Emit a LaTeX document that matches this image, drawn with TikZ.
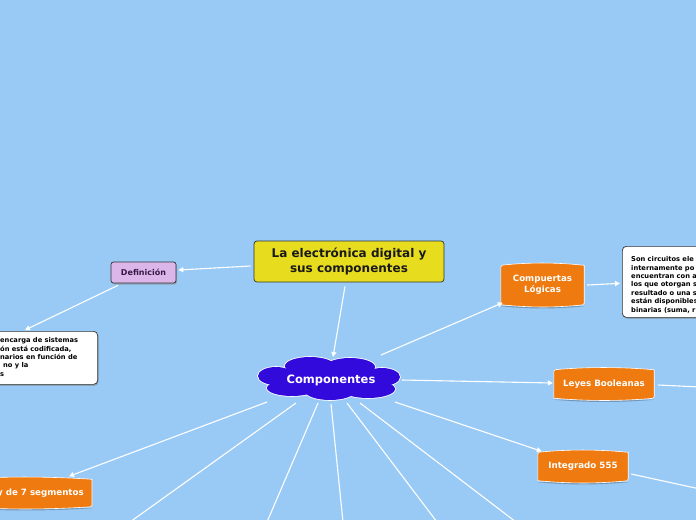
\documentclass[tikz,border=0pt]{standalone}
\usepackage{fontspec}
\setmainfont{DejaVu Sans}
\usetikzlibrary{arrows.meta,calc,shadows}
\pgfdeclarelayer{bottom}
\pgfdeclarelayer{background}
\pgfsetlayers{bottom,background,main}
\definecolor{bgc}{RGB}{153,202,246}
\definecolor{yellowc}{RGB}{232,220,30}
\definecolor{lilacc}{RGB}{220,182,232}
\definecolor{purpletext}{RGB}{55,25,70}
\definecolor{orangec}{RGB}{238,122,16}
\definecolor{cloudc}{RGB}{50,10,220}
\newcommand\orangeshape[1]{%
  \fill[black,opacity=0.25] ([yshift=-1.5pt]#1.south west) -- ([yshift=-1.5pt]#1.south east)
    .. controls ($([yshift=-1.5pt]#1.south west)!0.67!([yshift=-1.5pt]#1.south east)+(0,3)$) and ($([yshift=-1.5pt]#1.south west)!0.33!([yshift=-1.5pt]#1.south east)+(0,3)$) .. ([yshift=-1.5pt]#1.south west) -- cycle;
  \filldraw[fill=orangec,draw=white,line width=0.6pt,rounded corners=1.5pt] (#1.south west) -- (#1.north west)
    [sharp corners] .. controls ($(#1.north west)!0.33!(#1.north east)+(0,-3)$) and ($(#1.north west)!0.67!(#1.north east)+(0,-3)$) .. (#1.north east)
    [rounded corners=1.5pt] -- (#1.south east)
    [sharp corners] .. controls ($(#1.south west)!0.67!(#1.south east)+(0,3)$) and ($(#1.south west)!0.33!(#1.south east)+(0,3)$) .. (#1.south west) -- cycle;
}
\newcommand\cloudpuffs[1]{%
  \path[#1] (276,376) ellipse [x radius=18,y radius=9];
  \path[#1] (310,366) ellipse [x radius=25,y radius=9];
  \path[#1] (350,367) ellipse [x radius=25,y radius=9];
  \path[#1] (382,377) ellipse [x radius=18,y radius=9];
  \path[#1] (368,389) ellipse [x radius=27,y radius=9];
  \path[#1] (330,391) ellipse [x radius=25,y radius=9];
  \path[#1] (292,388) ellipse [x radius=25,y radius=8];
  \path[#1] (329,378) ellipse [x radius=55,y radius=12];
}
\begin{document}
\begin{tikzpicture}[x=1pt,y=-1pt,
  conn/.style={draw=white,line width=1.1pt},
  arr/.style={conn,-{Triangle[length=5pt,width=5pt]}},
  titlebox/.style={fill=yellowc,draw=black!80,rounded corners=3pt,line width=0.7pt,
    font=\fontsize{12}{14.3}\selectfont\bfseries,align=center,text=black!90,inner sep=0pt},
  defbox/.style={fill=lilacc,draw=black!80,rounded corners=2.5pt,line width=0.7pt,
    drop shadow={shadow xshift=1pt,shadow yshift=-1.5pt,opacity=0.5},
    font=\fontsize{8}{9}\selectfont\bfseries,text=purpletext,inner sep=0pt},
  whitebox/.style={fill=white,draw=black!80,rounded corners=4pt,line width=0.7pt,
    drop shadow={shadow xshift=1pt,shadow yshift=-1.5pt,opacity=0.5},inner sep=0pt},
  smalltext/.style={font=\fontsize{6.7}{8.4}\selectfont\bfseries,align=left,text=black,inner sep=0pt},
  cloudn/.style={text=white,font=\fontsize{11.5}{13}\selectfont\bfseries,inner sep=0pt},
  obox/.style={text=white,font=\fontsize{8.7}{11}\selectfont\bfseries,align=center,inner sep=0pt}
]
\begin{pgfonlayer}{bottom}
\fill[bgc] (0,0) rectangle (696,520);
\end{pgfonlayer}
\useasboundingbox (0,0) rectangle (696,520);

% nodes
\node[titlebox,minimum width=190,minimum height=41] (t) at (349,261.5) {La electrónica digital y\\sus componentes};
\node[defbox,minimum width=65,minimum height=21] (d) at (143.5,272.5) {Definición};
\node[whitebox,anchor=north east,minimum width=140,minimum height=53] (lb) at (98,331) {};
\node[smalltext,anchor=north west] (lbt) at (0,337.4) {encarga de sistemas\\ón está codificada,\\narios en función de\\\hspace*{3pt}no y la\\s};
\node[whitebox,anchor=north west,minimum width=120,minimum height=71] (rb) at (622,246) {};
\node[smalltext,anchor=north west] (rbt) at (631,256.4) {Son circuitos ele\\internamente po\\encuentran con a\\los que otorgan s\\resultado o una s\\están disponibles\\binarias (suma, r};
\node[cloudn,minimum width=141,minimum height=43] (co) at (331,380) {Componentes};
\node[obox,minimum width=83,minimum height=39] (cl) at (542.5,285) {Compuertas\\Lógicas};
\node[obox,minimum width=100,minimum height=28] (lb2) at (604,384) {Leyes Booleanas};
\node[obox,minimum width=90,minimum height=28] (i5) at (583,466.5) {Integrado 555};
\node[obox,anchor=east,inner xsep=8pt,minimum height=27] (d7) at (92,493) {Display de 7 segmentos};

\begin{pgfonlayer}{background}
\foreach \n in {cl,lb2,i5,d7} {\orangeshape{\n}}
\cloudpuffs{draw=white,line width=1.6pt}
\cloudpuffs{fill=cloudc}
\end{pgfonlayer}

% free ends
\coordinate (e1) at (700,387);
\coordinate (e2) at (700,489);
\coordinate (f1) at (130,522);
\coordinate (f2) at (267,522);
\coordinate (f3) at (343,522);
\coordinate (f4) at (437,522);
\coordinate (f5) at (516,522);

% connectors
\draw[arr] ([xshift=-3pt,yshift=-4.5pt]t.west) -- ([xshift=2pt,yshift=2.5pt]d.east);
\draw[arr] ([xshift=-25.5pt,yshift=-2pt]d.south) -- ([xshift=-73pt,yshift=1pt]lb.north east);
\draw[arr] ([xshift=-4pt,yshift=-4pt]t.south) -- ([xshift=2pt,yshift=23pt]co.center);
\draw[arr] ([xshift=50pt,yshift=25pt]co.center) -- ([xshift=2pt,yshift=2pt]cl.south west);
\draw[arr] ([xshift=3pt]cl.east) -- ([xshift=-2pt,yshift=-1.5pt]rb.west);
\draw[arr] ([xshift=71pt]co.center) -- ([xshift=-1pt,yshift=1pt]lb2.west);
\draw[conn] ([xshift=4pt,yshift=-1pt]lb2.east) -- (e1);
\draw[arr] ([xshift=64pt,yshift=-22pt]co.center) -- ([xshift=4pt,yshift=1pt]i5.north west);
\draw[conn] ([xshift=3pt,yshift=-7.5pt]i5.east) -- (e2);
\draw[arr] ([xshift=-64pt,yshift=-22pt]co.center) -- ([xshift=-23pt,yshift=3pt]d7.north east);
\draw[conn] ([xshift=-35pt,yshift=-23pt]co.center) -- (f1);
\draw[conn] ([xshift=-13pt,yshift=-23pt]co.center) -- (f2);
\draw[conn] ([xshift=0pt,yshift=-24pt]co.center) -- (f3);
\draw[conn] ([xshift=16pt,yshift=-23pt]co.center) -- (f4);
\draw[conn] ([xshift=29pt,yshift=-23pt]co.center) -- (f5);
\end{tikzpicture}
\end{document}
